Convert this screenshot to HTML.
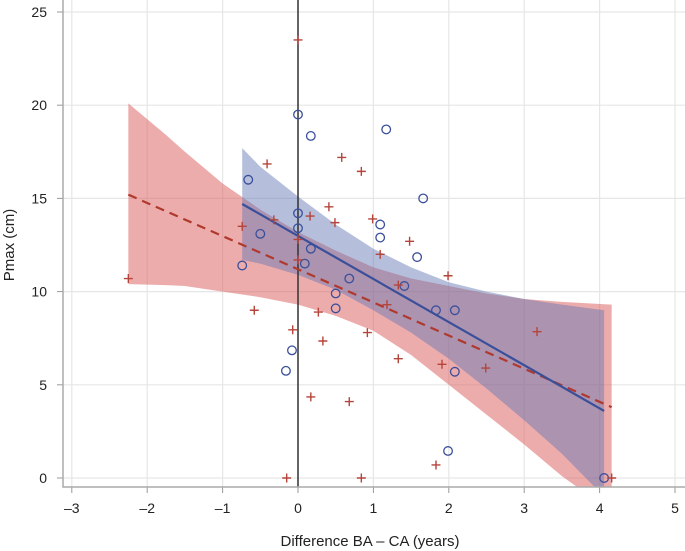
<!DOCTYPE html>
<html><head><meta charset="utf-8"><style>
html,body{margin:0;padding:0;background:#fff;}
svg{display:block;font-family:"Liberation Sans",Arial,sans-serif;}
</style></head><body>
<svg id="chart" width="685" height="551" viewBox="0 0 685 551" xmlns="http://www.w3.org/2000/svg">
<defs><clipPath id="clip"><rect x="63" y="0" width="622" height="487"/></clipPath></defs>
<g id="grid"></g>
<g id="bands" clip-path="url(#clip)"></g>
<g id="zero"></g>
<g id="lines"></g>
<g id="pts"></g>
<g id="axes"></g>
<text x="370" y="546" font-size="15" text-anchor="middle" fill="#222">Difference BA – CA (years)</text>
<text transform="translate(14,245) rotate(-90)" font-size="15" text-anchor="middle" fill="#222">Pmax (cm)</text>
</svg>
<script>
const xTicks=[-3,-2,-1,0,1,2,3,4,5];
const yTicks=[0,5,10,15,20,25];
const circX=[0,0.17,1.17,-0.66,1.66,0,-0.5,0,1.09,1.09,0.17,1.58,-0.74,0.09,0.68,1.41,0.5,0.5,1.83,2.08,-0.08,-0.16,2.08,1.99,4.06];
const circY=[19.5,18.35,18.7,16,15,14.2,13.1,13.4,13.6,12.9,12.3,11.85,11.4,11.5,10.7,10.3,9.9,9.1,9,9,6.85,5.75,5.7,1.45,0];
const crossX=[0,-0.41,0.58,0.84,0.41,0.16,0.49,0.99,-0.32,-0.74,1.48,1.09,0,0,1.99,1.33,1.18,-0.58,0.27,0.92,3.17,-0.07,0.33,1.33,1.91,2.49,0.17,0.68,-2.25,-0.15,0.84,1.83,4.16];
const crossY=[23.5,16.85,17.2,16.45,14.55,14.05,13.7,13.9,13.85,13.5,12.7,12.0,12.8,11.7,10.85,10.35,9.3,9.0,8.9,7.8,7.85,7.95,7.35,6.4,6.1,5.9,4.35,4.1,10.7,0,0,0.7,0];
const blueLineX=[-0.74,4.06], blueLineY=[14.7,3.6];
const redLineX=[-2.25,4.16], redLineY=[15.2,3.8];
const blueBandX=[-0.74,-0.5,0,0.5,1,1.5,2,2.5,3,3.5,4.06];
const blueUpper=[17.7,16.7,15.1,13.6,12.3,11.3,10.5,10.0,9.6,9.3,9.0];
const blueLower=[11.7,11.5,10.9,10.1,9.0,7.8,6.4,4.8,3.1,1.3,-1.0];
const redBandX=[-2.25,-1.75,-1.5,-1,-0.5,0,0.5,1,1.5,2,2.5,3,3.5,4.16];
const redUpper=[20.1,18.4,17.5,15.8,14.4,13.2,12.2,11.3,10.7,10.3,9.9,9.6,9.45,9.3];
const redLower=[10.4,10.35,10.3,10.0,9.7,9.3,8.7,7.9,6.6,5.0,3.4,1.8,0.1,-1.8];

const sx=v=>298+v*75.4, sy=v=>478-v*18.64;
const NS="http://www.w3.org/2000/svg";
function mk(tag,attrs,parent){const e=document.createElementNS(NS,tag);for(const k in attrs)e.setAttribute(k,attrs[k]);parent.appendChild(e);return e;}
const grid=document.getElementById('grid'),axes=document.getElementById('axes');
xTicks.forEach(t=>{
 const g=mk('line',{x1:sx(t),x2:sx(t),y1:0,y2:487,stroke:'#e6e6e6','stroke-width':1.2},grid);
 
 
 const tk=mk('line',{x1:sx(t),x2:sx(t),y1:487,y2:493,stroke:'#999'},axes);
 
 
 const tx=mk('text',{x:sx(t),y:513,'font-size':14,'text-anchor':'middle',fill:'#222'},axes);
 tx.textContent=t<0?'–'+Math.abs(t):String(t);
 
 
});
yTicks.forEach(t=>{
 const g=mk('line',{x1:63,x2:685,y1:sy(t),y2:sy(t),stroke:'#e6e6e6','stroke-width':1.2},grid);
 
 
 const tk=mk('line',{x1:57,x2:63,y1:sy(t),y2:sy(t),stroke:'#999'},axes);
 
 
 const tx=mk('text',{x:47,y:sy(t)+5,'font-size':14,'text-anchor':'end',fill:'#222'},axes);
 tx.textContent=String(t);
 
 
});
const ax=mk('path',{d:'M63,0 V487 H685',fill:'none',stroke:'#aaa','stroke-width':1.5},axes);


function band(xs,up,lo){let d='M'+xs.map((x,i)=>sx(x)+','+sy(up[i])).join(' L');for(let i=xs.length-1;i>=0;i--)d+=' L'+sx(xs[i])+','+sy(lo[i]);return d+'Z';}
const bands=document.getElementById('bands');
const rb=mk('path',{d:band(redBandX,redUpper,redLower),fill:'rgba(220,90,90,0.5)'},bands);


const bb=mk('path',{d:band(blueBandX,blueUpper,blueLower),fill:'rgba(100,120,180,0.48)'},bands);


const z=mk('line',{x1:sx(0),x2:sx(0),y1:0,y2:487,stroke:'#333','stroke-width':1.5},document.getElementById('zero'));


const lines=document.getElementById('lines');
const rl=mk('line',{x1:sx(redLineX[0]),y1:sy(redLineY[0]),x2:sx(redLineX[1]),y2:sy(redLineY[1]),stroke:'#b0392e','stroke-width':2.2,'stroke-dasharray':'9,6'},lines);


const bl=mk('line',{x1:sx(blueLineX[0]),y1:sy(blueLineY[0]),x2:sx(blueLineX[1]),y2:sy(blueLineY[1]),stroke:'#3a4f9a','stroke-width':2.2},lines);


const pts=document.getElementById('pts');
circX.forEach((x,i)=>{
 const c=mk('circle',{cx:sx(x),cy:sy(circY[i]),r:4.3,fill:'none',stroke:'#3a4f9a','stroke-width':1.3},pts);
 
 
});
crossX.forEach((x,i)=>{
 const X=sx(x),Y=sy(crossY[i]);
 const p=mk('path',{d:`M${X-4.5},${Y}H${X+4.5}M${X},${Y-4.5}V${Y+4.5}`,stroke:'#b5443a','stroke-width':1.4,fill:'none'},pts);
 
 
});
</script>
</body></html>
